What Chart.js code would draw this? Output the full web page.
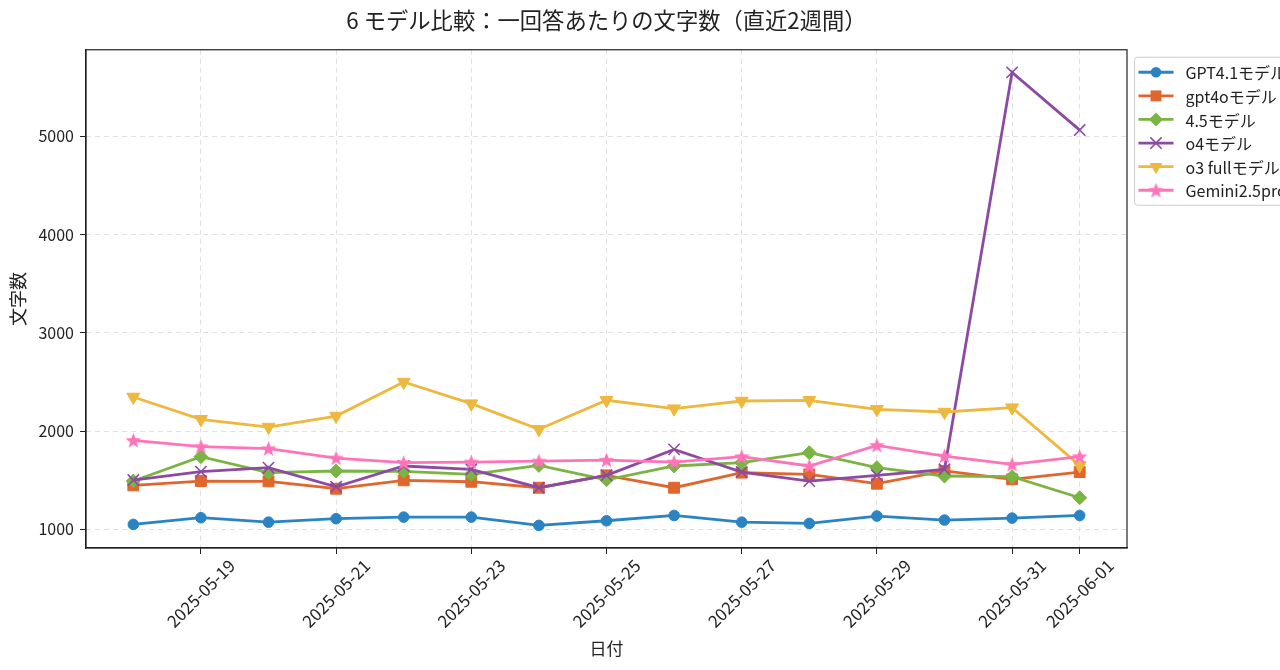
<!DOCTYPE html>
<html>
<head>
<meta charset="utf-8">
<script src="https://cdn.jsdelivr.net/npm/chart.js@4.4.1/dist/chart.umd.min.js"></script>
<style>
html,body{margin:0;padding:0;background:#fff;overflow:hidden;}
#wrap{width:1280px;height:670px;position:relative;}
</style>
</head>
<body>
<div id="wrap"><canvas id="c" width="1280" height="670"></canvas></div>
<script>
// ---- data ----
const dates = ['2025-05-18','2025-05-19','2025-05-20','2025-05-21','2025-05-22','2025-05-23','2025-05-24','2025-05-25','2025-05-26','2025-05-27','2025-05-28','2025-05-29','2025-05-30','2025-05-31','2025-06-01'];
const xTickLabels = ['2025-05-19','2025-05-21','2025-05-23','2025-05-25','2025-05-27','2025-05-29','2025-05-31','2025-06-01'];
const yTickValues = [1000, 2000, 3000, 4000, 5000];
const seriesNames = ['GPT4.1モデル','gpt4oモデル','4.5モデル','o4モデル','o3 fullモデル','Gemini2.5proモデル'];
const gpt41  = [1051, 1119, 1074, 1109, 1125, 1125, 1041, 1088, 1142, 1074, 1061, 1136, 1095, 1115, 1142];
const gpt4o  = [1448, 1492, 1489, 1414, 1499, 1485, 1424, 1550, 1424, 1577, 1560, 1465, 1595, 1509, 1583];
const m45    = [1492, 1740, 1577, 1594, 1590, 1560, 1651, 1505, 1645, 1679, 1780, 1628, 1543, 1536, 1322];
const o4     = [1502, 1587, 1628, 1434, 1645, 1611, 1424, 1550, 1814, 1583, 1492, 1550, 1611, 5648, 5061];
const o3full = [2347, 2120, 2041, 2153, 2499, 2279, 2018, 2313, 2228, 2306, 2313, 2221, 2194, 2238, 1651];
const gemini = [1906, 1842, 1821, 1726, 1679, 1685, 1695, 1705, 1685, 1740, 1645, 1855, 1746, 1662, 1740];

const seriesValues = [gpt41, gpt4o, m45, o4, o3full, gemini];
const colors = ['#2a84c4', '#e0662e', '#7ab443', '#8c4aa3', '#eeb83e', '#ff74b9'];
const FONT = "'Noto Sans CJK JP', 'Noto Sans', sans-serif";

// star marker image
function makeStar(color, size) {
  const c = document.createElement('canvas');
  c.width = size; c.height = size;
  const g = c.getContext('2d');
  const cx = size / 2, cy = size / 2 + 0.6, R = size / 2 - 0.3, r = R * 0.42;
  g.beginPath();
  for (let i = 0; i < 10; i++) {
    const a = -Math.PI / 2 + i * Math.PI / 5;
    const rr = i % 2 === 0 ? R : r;
    g.lineTo(cx + rr * Math.cos(a), cy + rr * Math.sin(a));
  }
  g.closePath();
  g.fillStyle = color; g.fill();
  return c;
}
const starImg = makeStar(colors[5], 17);

const markerDefs = [
  {style: 'circle', radius: 5.3, rot: 0},
  {style: 'rect', radius: 7.7, rot: 0},
  {style: 'rectRot', radius: 7, rot: 0},
  {style: 'crossRot', radius: 8, rot: 0},
  {style: 'triangle', radius: 7.5, rot: 180},
  {style: starImg, radius: 8, rot: 0}
];

const tickIdx = xTickLabels.map(l => dates.indexOf(l));

const datasets = seriesValues.map((vals, i) => ({
  label: seriesNames[i],
  data: vals.map((v, j) => ({x: j, y: v})),
  borderColor: colors[i],
  backgroundColor: colors[i],
  borderWidth: 2.8,
  pointStyle: markerDefs[i].style,
  pointRadius: markerDefs[i].radius,
  pointRotation: markerDefs[i].rot,
  pointBorderWidth: i === 3 ? 1.6 : 1,
  pointBorderColor: colors[i],
  pointBackgroundColor: colors[i],
  tension: 0,
  order: seriesValues.length - 1 - i
}));

function drawMarker(ctx, def, color, x, y) {
  ctx.save();
  ctx.fillStyle = color; ctx.strokeStyle = color; ctx.lineWidth = 1;
  const r = def.radius;
  if (def.style === 'circle') {
    ctx.beginPath(); ctx.arc(x, y, r, 0, Math.PI * 2); ctx.fill();
  } else if (def.style === 'rect') {
    const s = r * Math.SQRT1_2;
    ctx.fillRect(x - s, y - s, 2 * s, 2 * s);
  } else if (def.style === 'rectRot') {
    ctx.beginPath(); ctx.moveTo(x, y - r); ctx.lineTo(x + r, y); ctx.lineTo(x, y + r); ctx.lineTo(x - r, y); ctx.closePath(); ctx.fill();
  } else if (def.style === 'crossRot') {
    const s = r * Math.SQRT1_2; ctx.lineWidth = 1.6;
    ctx.beginPath(); ctx.moveTo(x - s, y - s); ctx.lineTo(x + s, y + s); ctx.moveTo(x + s, y - s); ctx.lineTo(x - s, y + s); ctx.stroke();
  } else if (def.style === 'triangle') {
    ctx.beginPath();
    for (let k = 0; k < 3; k++) {
      const a = Math.PI / 2 + k * 2 * Math.PI / 3;
      ctx.lineTo(x + r * Math.cos(a), y + r * Math.sin(a));
    }
    ctx.closePath(); ctx.fill();
  } else {
    ctx.drawImage(def.style, x - def.style.width / 2, y - def.style.height / 2);
  }
  ctx.restore();
}

const framePlugin = {
  id: 'frame',
  afterDatasetsDraw(chart) {
    const {ctx, chartArea: a} = chart;
    ctx.save();
    ctx.strokeStyle = '#222'; ctx.lineWidth = 1.2;
    ctx.strokeRect(a.left, a.top, a.right - a.left, a.bottom - a.top);
    ctx.restore();
  }
};

// matplotlib-style rotated x tick labels (45°, centred on the tick)
const xLabelPlugin = {
  id: 'xLabels',
  afterDraw(chart) {
    const s = chart.scales.x, ctx = chart.ctx;
    ctx.save();
    ctx.font = '17px ' + FONT;
    ctx.fillStyle = '#222';
    ctx.textAlign = 'center'; ctx.textBaseline = 'middle';
    const y0 = chart.chartArea.bottom + 10;
    const H = 13;
    s.ticks.forEach(t => {
      const label = dates[t.value];
      const px = s.getPixelForValue(t.value);
      const W = ctx.measureText(label).width;
      const cy = y0 + (W + H) * Math.SQRT1_2 / 2;
      ctx.save();
      ctx.translate(px, cy);
      ctx.rotate(-Math.PI / 4);
      ctx.fillText(label, 0, 0);
      ctx.restore();
    });
    ctx.restore();
  }
};

const legendPlugin = {
  id: 'mplLegend',
  afterDraw(chart) {
    const {ctx, chartArea: a} = chart;
    const x0 = a.right + 7.5, y0 = a.top + 7.5, w = 180, h = 148;
    ctx.save();
    ctx.beginPath();
    if (ctx.roundRect) ctx.roundRect(x0, y0, w, h, 3); else ctx.rect(x0, y0, w, h);
    ctx.fillStyle = 'rgba(255,255,255,0.85)'; ctx.fill();
    ctx.strokeStyle = '#cccccc'; ctx.lineWidth = 1; ctx.stroke();
    ctx.font = '16px ' + FONT;
    ctx.textBaseline = 'middle'; ctx.textAlign = 'left';
    chart.data.datasets.forEach((ds, i) => {
      const y = y0 + 15 + i * 23.6;
      ctx.strokeStyle = colors[i]; ctx.lineWidth = 2.8;
      ctx.beginPath(); ctx.moveTo(x0 + 4, y); ctx.lineTo(x0 + 39, y); ctx.stroke();
      drawMarker(ctx, markerDefs[i], colors[i], x0 + 21.5, y);
      ctx.fillStyle = '#222';
      ctx.fillText(ds.label, x0 + 51, y + 1);
    });
    ctx.restore();
  }
};

Chart.defaults.font.family = FONT;
Chart.defaults.color = '#222';

const gridOpts = {
  color: '#e0e0e0',
  lineWidth: 1,
  tickBorderDash: [],
  tickColor: '#222',
  tickLength: 6,
  tickWidth: 1
};

new Chart(document.getElementById('c'), {
  type: 'line',
  data: {datasets},
  options: {
    responsive: false,
    animation: false,
    devicePixelRatio: 1,
    layout: {padding: {left: 0, right: 153, top: 0, bottom: 8}},
    plugins: {
      legend: {display: false},
      tooltip: {enabled: false},
      title: {
        display: true,
        text: '6 モデル比較：一回答あたりの文字数（直近2週間）',
        font: {size: 22.3, weight: 'normal'},
        color: '#222',
        fullSize: false,
        padding: {top: 7, bottom: 16}
      }
    },
    scales: {
      x: {
        type: 'linear',
        min: -0.7,
        max: 14.7,
        afterBuildTicks: s => { s.ticks = tickIdx.map(v => ({value: v})); },
        afterFit: s => { s.height = 114; },
        ticks: {display: false, autoSkip: false, callback: v => dates[v]},
        grid: gridOpts,
        border: {display: true, color: '#222', width: 1.2, dash: [5, 4]},
        title: {display: true, text: '日付', font: {size: 17}, color: '#222', padding: {top: 0, bottom: 3}}
      },
      y: {
        type: 'linear',
        min: 811,
        max: 5878,
        afterBuildTicks: s => { s.ticks = yTickValues.map(v => ({value: v})); },
        afterFit: s => { s.width = 86; },
        ticks: {font: {size: 16}, color: '#222', padding: 6, callback: v => String(v)},
        grid: gridOpts,
        border: {display: true, color: '#222', width: 1.2, dash: [5, 4]},
        title: {display: true, text: '文字数', font: {size: 18}, color: '#222', padding: {top: 7, bottom: 0}}
      }
    }
  },
  plugins: [framePlugin, xLabelPlugin, legendPlugin]
});
</script>
</body>
</html>
